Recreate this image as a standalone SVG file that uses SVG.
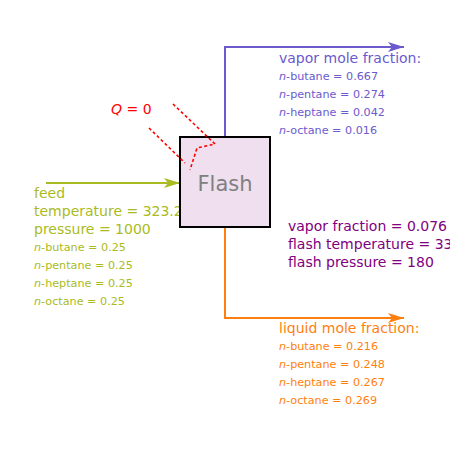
<svg xmlns="http://www.w3.org/2000/svg" width="450" height="450" viewBox="0 0 450 450">
<defs>
<marker id="aV" markerWidth="16" markerHeight="10" refX="16" refY="5" orient="auto" markerUnits="userSpaceOnUse"><path d="M0,0 L16,5 L0,10 L4,5 Z" fill="#6a5acd"/></marker>
<marker id="aL" markerWidth="16" markerHeight="10" refX="16" refY="5" orient="auto" markerUnits="userSpaceOnUse"><path d="M0,0 L16,5 L0,10 L4,5 Z" fill="#ff7f0e"/></marker>
<marker id="aF" markerWidth="16" markerHeight="10" refX="16" refY="5" orient="auto" markerUnits="userSpaceOnUse"><path d="M0,0 L16,5 L0,10 L4,5 Z" fill="#aabb22"/></marker>
</defs>
<style>
text{font-family:"DejaVu Sans",sans-serif}
.big{font-size:14px}
.res{font-size:14px}
.sm{font-size:11.2px}
.v{fill:#6a5acd}
.l{fill:#ff7f0e}
.f{fill:#aabb22}
.p{fill:#800080}
</style>
<rect width="450" height="450" fill="#ffffff"/>
<g id="connectors" fill="none" stroke-width="2">
<polyline points="225,137 225,47 404,47" stroke="#6a5acd" marker-end="url(#aV)"/>
<polyline points="225,227 225,318 404,318" stroke="#ff7f0e" marker-end="url(#aL)"/>
<line x1="46" y1="183" x2="180" y2="183" stroke="#aabb22" marker-end="url(#aF)"/>
</g>
<g id="feed-label">
<text class="big f" x="34" y="198">feed</text>
<text class="big f" x="34" y="216">temperature = 323.2</text>
<text class="big f" x="34" y="234">pressure = 1000</text>
<text class="sm f" x="34" y="251"><tspan font-style="italic">n</tspan>-butane = 0.25</text>
<text class="sm f" x="34" y="269"><tspan font-style="italic">n</tspan>-pentane = 0.25</text>
<text class="sm f" x="34" y="287"><tspan font-style="italic">n</tspan>-heptane = 0.25</text>
<text class="sm f" x="34" y="305"><tspan font-style="italic">n</tspan>-octane = 0.25</text>
</g>
<g id="flash">
<rect x="180" y="137" width="90" height="90" fill="#efdfef" stroke="#000000" stroke-width="2"/>
<text x="225" y="190.5" text-anchor="middle" font-size="21" fill="#808080">Flash</text>
</g>
<g id="heat" fill="none" stroke="#ff0000" stroke-width="1.6" stroke-dasharray="3,2.5">
<polyline points="173,104 215,144 197,148 190,170"/>
<line x1="149" y1="128" x2="185" y2="163"/>
</g>
<g id="q-label">
<text class="big" x="111" y="114" fill="#ff0000"><tspan font-style="italic">Q</tspan> = 0</text>
</g>
<g id="vapor-label">
<text class="big v" x="279" y="63">vapor mole fraction:</text>
<text class="sm v" x="279" y="80"><tspan font-style="italic">n</tspan>-butane = 0.667</text>
<text class="sm v" x="279" y="98"><tspan font-style="italic">n</tspan>-pentane = 0.274</text>
<text class="sm v" x="279" y="116"><tspan font-style="italic">n</tspan>-heptane = 0.042</text>
<text class="sm v" x="279" y="134"><tspan font-style="italic">n</tspan>-octane = 0.016</text>
</g>
<g id="flash-results">
<text class="res p" x="288" y="231">vapor fraction = 0.076</text>
<text class="res p" x="288" y="249">flash temperature = 33</text>
<text class="res p" x="288" y="267">flash pressure = 180</text>
</g>
<g id="liquid-label">
<text class="big l" x="279" y="333">liquid mole fraction:</text>
<text class="sm l" x="279" y="350"><tspan font-style="italic">n</tspan>-butane = 0.216</text>
<text class="sm l" x="279" y="368"><tspan font-style="italic">n</tspan>-pentane = 0.248</text>
<text class="sm l" x="279" y="386"><tspan font-style="italic">n</tspan>-heptane = 0.267</text>
<text class="sm l" x="279" y="404"><tspan font-style="italic">n</tspan>-octane = 0.269</text>
</g>
</svg>
